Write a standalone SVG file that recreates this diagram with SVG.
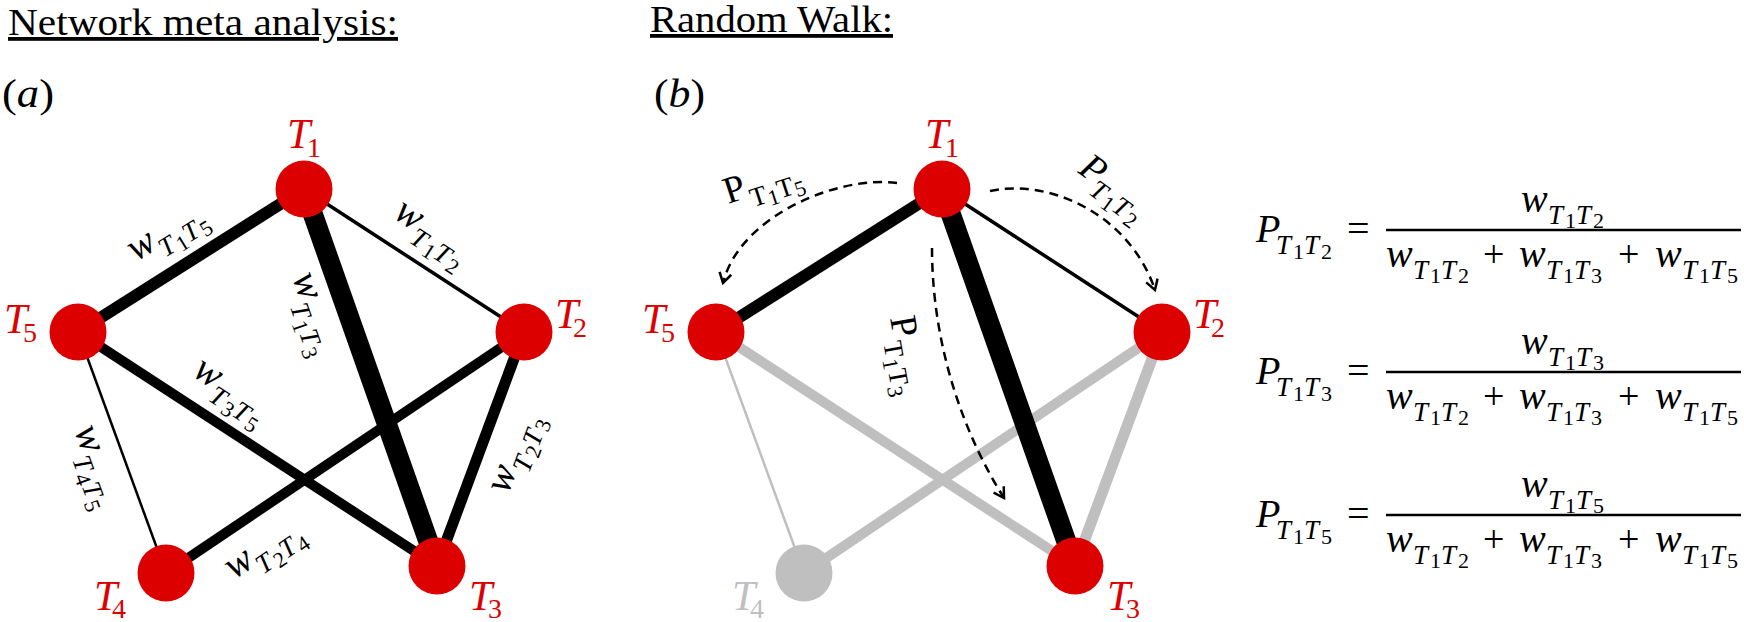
<svg xmlns="http://www.w3.org/2000/svg" width="1744" height="622" viewBox="0 0 1744 622">
<style>
.bg{fill:#fff}
.k{stroke:#000;fill:none}
.g{stroke:#bfbfbf;fill:none}
.node{fill:#dd0000}
.nodeg{fill:#bfbfbf}
.m{font-family:"Liberation Serif",serif;font-style:italic;fill:#000}
.r{font-style:normal}
.lbl{font-family:"Liberation Serif",serif;font-style:italic;font-size:42px;fill:#dd0000}
.lblg{fill:#bfbfbf}
.dg{font-size:28px;font-style:normal}
.ts{font-size:27px}
.ds{font-size:22px;font-style:normal}
.dash{fill:none;stroke:#000;stroke-width:2.5;stroke-dasharray:9 6;marker-end:url(#ah)}
.title{font-family:"Liberation Serif",serif;font-size:38px;fill:#000;text-decoration:underline}
.op{font-family:"Liberation Serif",serif;font-style:normal;fill:#000}
</style>
<defs>
<marker id="ah" markerWidth="16" markerHeight="16" refX="13" refY="8" orient="auto" markerUnits="userSpaceOnUse">
<path d="M3,2 L13,8 L3,14" fill="none" stroke="#000" stroke-width="2.5"/>
</marker>
</defs>
<rect class="bg" x="0" y="0" width="1744" height="622"/>

<g id="titles">
<text class="title" x="8" y="35" textLength="390" lengthAdjust="spacingAndGlyphs">Network meta analysis:</text>
<text class="title" x="650" y="32" textLength="243" lengthAdjust="spacingAndGlyphs">Random Walk:</text>
<text class="op" x="2" y="107" font-size="40" textLength="52" lengthAdjust="spacingAndGlyphs">(<tspan class="m">a</tspan>)</text>
<text class="op" x="654" y="107" font-size="40" textLength="51" lengthAdjust="spacingAndGlyphs">(<tspan class="m">b</tspan>)</text>
</g>

<g id="connectors">
<!-- panel a -->
<line class="k" x1="304" y1="189" x2="78" y2="332" stroke-width="12"/>
<line class="k" x1="304" y1="189" x2="437" y2="566" stroke-width="20"/>
<line class="k" x1="304" y1="189" x2="524" y2="332" stroke-width="3.5"/>
<line class="k" x1="524" y1="332" x2="437" y2="566" stroke-width="11"/>
<line class="k" x1="524" y1="332" x2="166" y2="573" stroke-width="10"/>
<line class="k" x1="78" y1="332" x2="437" y2="566" stroke-width="10"/>
<line class="k" x1="78" y1="332" x2="166" y2="573" stroke-width="2.5"/>
<!-- panel b -->
<line class="g" x1="1162" y1="332" x2="1075" y2="566" stroke-width="11"/>
<line class="g" x1="1162" y1="332" x2="804" y2="573" stroke-width="10"/>
<line class="g" x1="716" y1="332" x2="1075" y2="566" stroke-width="10"/>
<line class="g" x1="716" y1="332" x2="804" y2="573" stroke-width="2.5"/>
<line class="k" x1="942" y1="189" x2="716" y2="332" stroke-width="12"/>
<line class="k" x1="942" y1="189" x2="1075" y2="566" stroke-width="20"/>
<line class="k" x1="942" y1="189" x2="1162" y2="332" stroke-width="3.5"/>
<!-- random walk arrows -->
<path class="dash" d="M897,183 C840,175 740,215 723,283"/>
<path class="dash" d="M990,191 C1050,178 1130,215 1155,290"/>
<path class="dash" d="M932,248 C932,330 955,420 1004,498"/>
</g>

<g id="edge-labels-a">
<text class="m" font-size="40" transform="translate(136,262) rotate(-32)"><tspan x="0" y="0">w</tspan><tspan class="ts" x="27" y="12">T</tspan><tspan class="ds" x="44" y="16">1</tspan><tspan class="ts" x="55" y="12">T</tspan><tspan class="ds" x="72" y="16">5</tspan></text>
<text class="m" font-size="40" transform="translate(392,217) rotate(33)"><tspan x="0" y="0">w</tspan><tspan class="ts" x="27" y="12">T</tspan><tspan class="ds" x="44" y="16">1</tspan><tspan class="ts" x="55" y="12">T</tspan><tspan class="ds" x="72" y="16">2</tspan></text>
<text class="m" font-size="40" transform="translate(292,277) rotate(70.6)"><tspan x="0" y="0">w</tspan><tspan class="ts" x="27" y="12">T</tspan><tspan class="ds" x="44" y="16">1</tspan><tspan class="ts" x="55" y="12">T</tspan><tspan class="ds" x="72" y="16">3</tspan></text>
<text class="m" font-size="40" transform="translate(191,375) rotate(33)"><tspan x="0" y="0">w</tspan><tspan class="ts" x="27" y="12">T</tspan><tspan class="ds" x="44" y="16">3</tspan><tspan class="ts" x="55" y="12">T</tspan><tspan class="ds" x="72" y="16">5</tspan></text>
<text class="m" font-size="40" transform="translate(74,430) rotate(70)"><tspan x="0" y="0">w</tspan><tspan class="ts" x="27" y="12">T</tspan><tspan class="ds" x="44" y="16">4</tspan><tspan class="ts" x="55" y="12">T</tspan><tspan class="ds" x="72" y="16">5</tspan></text>
<text class="m" font-size="40" transform="translate(508,495) rotate(-69.6)"><tspan x="0" y="0">w</tspan><tspan class="ts" x="27" y="12">T</tspan><tspan class="ds" x="44" y="16">2</tspan><tspan class="ts" x="55" y="12">T</tspan><tspan class="ds" x="72" y="16">3</tspan></text>
<text class="m" font-size="40" transform="translate(234,580) rotate(-34)"><tspan x="0" y="0">w</tspan><tspan class="ts" x="27" y="12">T</tspan><tspan class="ds" x="44" y="16">2</tspan><tspan class="ts" x="55" y="12">T</tspan><tspan class="ds" x="72" y="16">4</tspan></text>
</g>

<g id="edge-labels-b">
<text class="m r" font-size="38" transform="translate(728,204) rotate(-18)"><tspan x="0" y="0">P</tspan><tspan class="ts" x="23" y="11">T</tspan><tspan class="ds" x="40" y="15">1</tspan><tspan class="ts" x="51" y="11">T</tspan><tspan class="ds" x="68" y="15">5</tspan></text>
<text class="m" font-size="38" transform="translate(1077,172) rotate(36)"><tspan x="0" y="0">P</tspan><tspan class="ts" x="21" y="11">T</tspan><tspan class="ds" x="38" y="15">1</tspan><tspan class="ts" x="49" y="11">T</tspan><tspan class="ds" x="66" y="15">2</tspan></text>
<text class="m r" font-size="38" transform="translate(890,318) rotate(80)"><tspan x="0" y="0">P</tspan><tspan class="ts" x="23" y="11">T</tspan><tspan class="ds" x="40" y="15">1</tspan><tspan class="ts" x="51" y="11">T</tspan><tspan class="ds" x="68" y="15">3</tspan></text>
</g>

<g id="a-T1"><circle class="node" cx="304" cy="189" r="28.5"/><text class="lbl" x="287" y="148">T<tspan class="dg" x="307" y="157">1</tspan></text></g>
<g id="a-T2"><circle class="node" cx="524" cy="332" r="28.5"/><text class="lbl" x="555" y="328">T<tspan class="dg" x="573" y="337">2</tspan></text></g>
<g id="a-T3"><circle class="node" cx="437" cy="566" r="28.5"/><text class="lbl" x="469" y="610">T<tspan class="dg" x="488" y="618">3</tspan></text></g>
<g id="a-T4"><circle class="node" cx="166" cy="573" r="28.5"/><text class="lbl" x="94" y="610">T<tspan class="dg" x="112" y="618">4</tspan></text></g>
<g id="a-T5"><circle class="node" cx="78" cy="332" r="28.5"/><text class="lbl" x="4" y="333">T<tspan class="dg" x="23" y="342">5</tspan></text></g>

<g id="b-T1"><circle class="node" cx="942" cy="189" r="28.5"/><text class="lbl" x="925" y="148">T<tspan class="dg" x="945" y="157">1</tspan></text></g>
<g id="b-T2"><circle class="node" cx="1162" cy="332" r="28.5"/><text class="lbl" x="1193" y="328">T<tspan class="dg" x="1211" y="337">2</tspan></text></g>
<g id="b-T3"><circle class="node" cx="1075" cy="566" r="28.5"/><text class="lbl" x="1107" y="610">T<tspan class="dg" x="1126" y="618">3</tspan></text></g>
<g id="b-T4"><circle class="nodeg" cx="804" cy="573" r="28.5"/><text class="lbl lblg" x="732" y="610">T<tspan class="dg" x="750" y="618">4</tspan></text></g>
<g id="b-T5"><circle class="node" cx="716" cy="332" r="28.5"/><text class="lbl" x="642" y="333">T<tspan class="dg" x="661" y="342">5</tspan></text></g>

<g id="equation-1">
<text class="m" font-size="40" transform="translate(1256,242)"><tspan x="0" y="0">P</tspan><tspan class="ts" x="20" y="12">T</tspan><tspan class="ds" x="37" y="17">1</tspan><tspan class="ts" x="48" y="12">T</tspan><tspan class="ds" x="65" y="17">2</tspan></text>
<text class="op" font-size="40" x="1347" y="242">=</text>
<line x1="1386" y1="230" x2="1741" y2="230" stroke="#000" stroke-width="2.5"/>
<text class="m" font-size="40" transform="translate(1521,212)"><tspan x="0" y="0">w</tspan><tspan class="ts" x="27" y="12">T</tspan><tspan class="ds" x="44" y="16">1</tspan><tspan class="ts" x="55" y="12">T</tspan><tspan class="ds" x="72" y="16">2</tspan></text>
<text class="m" font-size="40" transform="translate(1386,267)"><tspan x="0" y="0">w</tspan><tspan class="ts" x="27" y="12">T</tspan><tspan class="ds" x="44" y="16">1</tspan><tspan class="ts" x="55" y="12">T</tspan><tspan class="ds" x="72" y="16">2</tspan></text>
<text class="op" font-size="38" x="1483" y="267">+</text>
<text class="m" font-size="40" transform="translate(1519,267)"><tspan x="0" y="0">w</tspan><tspan class="ts" x="27" y="12">T</tspan><tspan class="ds" x="44" y="16">1</tspan><tspan class="ts" x="55" y="12">T</tspan><tspan class="ds" x="72" y="16">3</tspan></text>
<text class="op" font-size="38" x="1618" y="267">+</text>
<text class="m" font-size="40" transform="translate(1655,267)"><tspan x="0" y="0">w</tspan><tspan class="ts" x="27" y="12">T</tspan><tspan class="ds" x="44" y="16">1</tspan><tspan class="ts" x="55" y="12">T</tspan><tspan class="ds" x="72" y="16">5</tspan></text>
</g>

<g id="equation-2">
<text class="m" font-size="40" transform="translate(1256,384)"><tspan x="0" y="0">P</tspan><tspan class="ts" x="20" y="12">T</tspan><tspan class="ds" x="37" y="17">1</tspan><tspan class="ts" x="48" y="12">T</tspan><tspan class="ds" x="65" y="17">3</tspan></text>
<text class="op" font-size="40" x="1347" y="384">=</text>
<line x1="1386" y1="372" x2="1741" y2="372" stroke="#000" stroke-width="2.5"/>
<text class="m" font-size="40" transform="translate(1521,354)"><tspan x="0" y="0">w</tspan><tspan class="ts" x="27" y="12">T</tspan><tspan class="ds" x="44" y="16">1</tspan><tspan class="ts" x="55" y="12">T</tspan><tspan class="ds" x="72" y="16">3</tspan></text>
<text class="m" font-size="40" transform="translate(1386,409)"><tspan x="0" y="0">w</tspan><tspan class="ts" x="27" y="12">T</tspan><tspan class="ds" x="44" y="16">1</tspan><tspan class="ts" x="55" y="12">T</tspan><tspan class="ds" x="72" y="16">2</tspan></text>
<text class="op" font-size="38" x="1483" y="409">+</text>
<text class="m" font-size="40" transform="translate(1519,409)"><tspan x="0" y="0">w</tspan><tspan class="ts" x="27" y="12">T</tspan><tspan class="ds" x="44" y="16">1</tspan><tspan class="ts" x="55" y="12">T</tspan><tspan class="ds" x="72" y="16">3</tspan></text>
<text class="op" font-size="38" x="1618" y="409">+</text>
<text class="m" font-size="40" transform="translate(1655,409)"><tspan x="0" y="0">w</tspan><tspan class="ts" x="27" y="12">T</tspan><tspan class="ds" x="44" y="16">1</tspan><tspan class="ts" x="55" y="12">T</tspan><tspan class="ds" x="72" y="16">5</tspan></text>
</g>

<g id="equation-3">
<text class="m" font-size="40" transform="translate(1256,527)"><tspan x="0" y="0">P</tspan><tspan class="ts" x="20" y="12">T</tspan><tspan class="ds" x="37" y="17">1</tspan><tspan class="ts" x="48" y="12">T</tspan><tspan class="ds" x="65" y="17">5</tspan></text>
<text class="op" font-size="40" x="1347" y="527">=</text>
<line x1="1386" y1="515" x2="1741" y2="515" stroke="#000" stroke-width="2.5"/>
<text class="m" font-size="40" transform="translate(1521,497)"><tspan x="0" y="0">w</tspan><tspan class="ts" x="27" y="12">T</tspan><tspan class="ds" x="44" y="16">1</tspan><tspan class="ts" x="55" y="12">T</tspan><tspan class="ds" x="72" y="16">5</tspan></text>
<text class="m" font-size="40" transform="translate(1386,552)"><tspan x="0" y="0">w</tspan><tspan class="ts" x="27" y="12">T</tspan><tspan class="ds" x="44" y="16">1</tspan><tspan class="ts" x="55" y="12">T</tspan><tspan class="ds" x="72" y="16">2</tspan></text>
<text class="op" font-size="38" x="1483" y="552">+</text>
<text class="m" font-size="40" transform="translate(1519,552)"><tspan x="0" y="0">w</tspan><tspan class="ts" x="27" y="12">T</tspan><tspan class="ds" x="44" y="16">1</tspan><tspan class="ts" x="55" y="12">T</tspan><tspan class="ds" x="72" y="16">3</tspan></text>
<text class="op" font-size="38" x="1618" y="552">+</text>
<text class="m" font-size="40" transform="translate(1655,552)"><tspan x="0" y="0">w</tspan><tspan class="ts" x="27" y="12">T</tspan><tspan class="ds" x="44" y="16">1</tspan><tspan class="ts" x="55" y="12">T</tspan><tspan class="ds" x="72" y="16">5</tspan></text>
</g>
</svg>
